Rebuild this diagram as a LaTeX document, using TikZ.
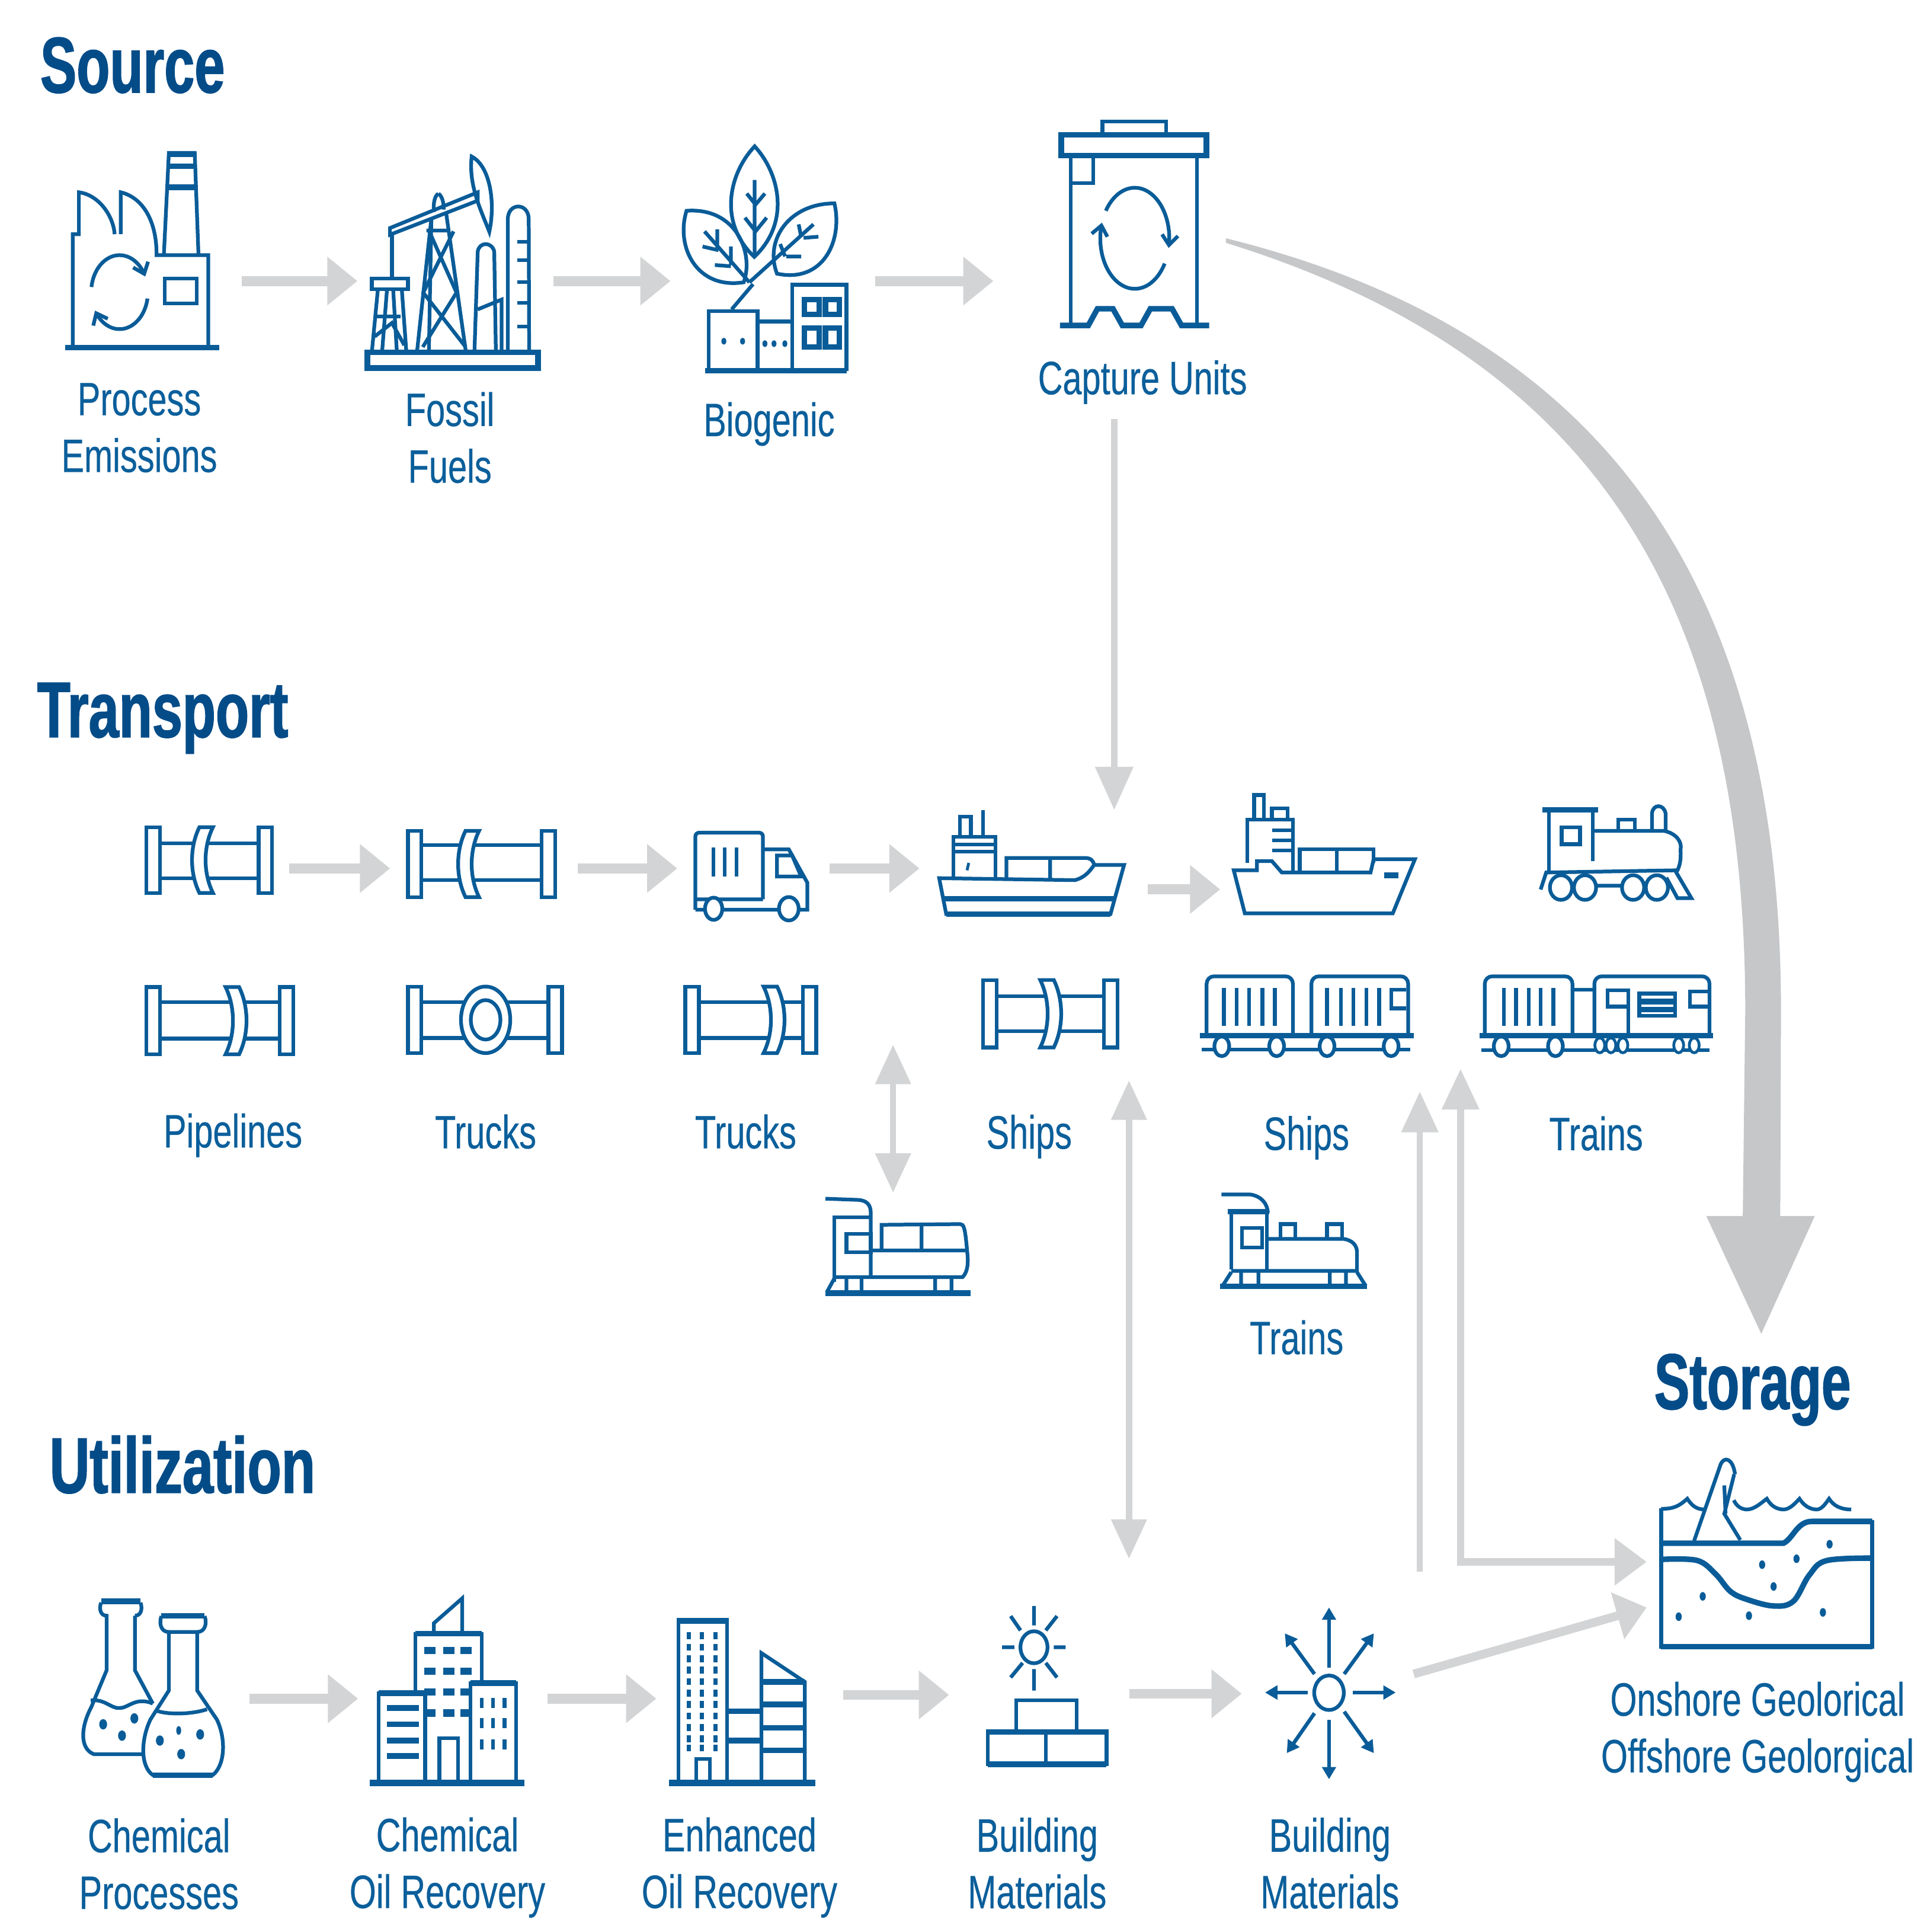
\documentclass[tikz,border=0pt]{standalone}
\usepackage{fontspec}
\usetikzlibrary{arrows.meta}
\newfontfamily\lblface[FakeStretch=0.73,FakeBold=0.35]{Liberation Sans}
\newfontfamily\headface[FakeStretch=0.69,FakeBold=1.2]{Liberation Sans Bold}
\definecolor{icoblue}{HTML}{0A5C98}
\definecolor{lblblue}{HTML}{0B5F9B}
\definecolor{headblue}{HTML}{034C88}
\definecolor{arrgray}{HTML}{D3D4D5}
\definecolor{biggray}{HTML}{C6C7C9}
\tikzset{
 ic/.style={draw=icoblue,line width=3pt,line join=miter},
 icthick/.style={draw=icoblue,line width=4.5pt},
 icthin/.style={draw=icoblue,line width=2.3pt},
 dotmark/.style={fill=icoblue},
 lbl/.style={text=lblblue,font=\lblface\fontsize{38}{46}\selectfont,align=center,inner sep=0pt},
 headl/.style={text=headblue,font=\headface\fontsize{64}{70}\selectfont,anchor=base west,inner sep=0pt},
 flow/.style={draw=arrgray,line width=8pt,-{Triangle[length=24.5pt,width=38pt]}},
 slim/.style={draw=arrgray,line width=5pt},
 barb/.style={-{Straight Barb[length=8pt,width=13pt]}},
}
\newcommand\ellarc[7][]{\draw[ic,#1] plot[domain=#6:#7,samples=40,variable=\t] ({#2+#4*cos(\t)},{#3+#5*sin(\t)});}
\newcommand\pipeicon[7]{%
 \draw[ic] ({#1+11},#6) -- ({#2-11},#6) ({#1+11},#7) -- ({#2-11},#7);
 \draw[ic,fill=white] (#1,#3) rectangle ({#1+11},#4);
 \draw[ic,fill=white] ({#2-11},#3) rectangle (#2,#4);
}
\newcommand\coupling[4]{%
 \begin{scope}[shift={(#1,0)},xscale=#4]
 \draw[ic,fill=white] (-6,#2) -- (5,#2) .. controls (13,{#2+0.3*(#3-#2)}) and (13,{#3-0.3*(#3-#2)}) .. (5,#3) -- (-6,#3) .. controls (2,{#3-0.3*(#3-#2)}) and (2,{#2+0.3*(#3-#2)}) .. (-6,#2) -- cycle;
 \end{scope}}
\newcommand\dotm[4]{\fill[dotmark] (#1,#2) ellipse (#3 and #4);}
\begin{document}
\begin{tikzpicture}[x=1pt,y=-1pt]
\useasboundingbox (0,0) rectangle (1561,1567.3);
\fill[white] (0,0) rectangle (1561,1567.3);

% ---------- headings
\node[headl] (hsource) at (32.5,75) {Source};
\node[headl] (htransport) at (30,598) {Transport};
\node[headl,xscale=1.022] (hutil) at (40,1211) {Utilization};
\node[headl,xscale=0.97] (hstorage) at (1342,1143) {Storage};

% ---------- labels
\node[lbl] (lprocess) at (113,347) {Process\\Emissions};
\node[lbl] (lfossil) at (365,355) {Fossil\\Fuels};
\node[lbl] (lbio) at (624,344) {Biogenic};
\node[lbl] (lcapture) at (927,310) {Capture Units};
\node[lbl] (lpipe) at (189,921) {Pipelines};
\node[lbl] (ltruck) at (394,918) {Trucks};
\node[lbl] (ltruckb) at (605,918) {Trucks};
\node[lbl] (lship) at (835,922) {Ships};
\node[lbl] (lshipb) at (1060,923) {Ships};
\node[lbl] (ltrain) at (1295,919.5) {Trains};
\node[lbl] (ltrainb) at (1052,1085) {Trains};
\node[lbl] (lchem) at (129,1512) {Chemical\\Processes};
\node[lbl] (lchemb) at (363,1515) {Chemical\\Oil Recovery};
\node[lbl] (lenh) at (600,1515) {Enhanced\\Oil Recovery};
\node[lbl] (lbuild) at (841.5,1511.5) {Building\\Materials};
\node[lbl] (lbuildb) at (1079,1511.5) {Building\\Materials};
\node[lbl] (lgeo) at (1426,1405) {Onshore Geolorical\\Offshore Geolorgical};

% ---------- connector end points
\coordinate (s1a) at (196,228); \coordinate (s1b) at (290,228);
\coordinate (s2a) at (449,228); \coordinate (s2b) at (544,228);
\coordinate (s3a) at (710,228); \coordinate (s3b) at (806,228);
\coordinate (capdown) at (904,340); \coordinate (shiptop) at (904,657);
\coordinate (t1a) at (234.5,704.5); \coordinate (t1b) at (316.5,704.5);
\coordinate (t2a) at (468.5,704.5); \coordinate (t2b) at (549.5,704.5);
\coordinate (t3a) at (673,704.5); \coordinate (t3b) at (746,704.5);
\coordinate (t4a) at (931,721.5); \coordinate (t4b) at (990,721.5);
\coordinate (d1a) at (724.6,847.5); \coordinate (d1b) at (724.6,967.5);
\coordinate (d2a) at (916,876.5); \coordinate (d2b) at (916,1264.5);
\coordinate (up1a) at (1152,1275); \coordinate (up1b) at (1152,885.5);
\coordinate (up2a) at (1185,867); \coordinate (up2c) at (1185,1267); \coordinate (up2b) at (1336,1267);
\coordinate (bma) at (1147,1358); \coordinate (bmb) at (1336,1304);
\coordinate (u1a) at (202.5,1378); \coordinate (u1b) at (290.5,1378);
\coordinate (u2a) at (444,1378); \coordinate (u2b) at (532.5,1378);
\coordinate (u3a) at (684,1375); \coordinate (u3b) at (770,1375);
\coordinate (u4a) at (916.5,1374); \coordinate (u4b) at (1007.5,1374);

% ---------- gray connectors
\foreach \p/\q in {s1a/s1b,s2a/s2b,s3a/s3b,t1a/t1b,t2a/t2b,t3a/t3b,t4a/t4b,u1a/u1b,u2a/u2b,u3a/u3b,u4a/u4b}
  \draw[flow] (\p) -- (\q);
\draw[slim,-{Triangle[length=35pt,width=30pt]}] (capdown) -- (shiptop);
\draw[slim,{Triangle[length=32pt,width=28pt]}-{Triangle[length=32pt,width=28pt]}] (d1a) -- (d1b);
\draw[slim,{Triangle[length=32pt,width=28pt]}-{Triangle[length=32pt,width=28pt]}] (d2a) -- (d2b);
\draw[slim,-{Triangle[length=33pt,width=29pt]}] (up1a) -- (up1b);
\draw[slim,line width=6pt,{Triangle[length=33pt,width=29pt]}-{Triangle[length=26pt,width=37pt]}] (up2a) -- (up2c) -- (up2b);
\draw[flow,line width=7pt] (bma) -- (bmb);
% big curved arrow to storage
\fill[biggray] (994.6,193.3) .. controls (1315,272.5) and (1445,490) .. (1445,820) -- (1444.4,986.5)
  -- (1472.4,986.5) -- (1429,1082) -- (1384.4,986.5) -- (1414,986.5)
  -- (1416,820) .. controls (1416,490) and (1295,290) .. (994.6,197) -- cycle;

% ---------- factory
\draw[ic] (59,283) -- (59,190) -- (64,190) -- (64,156) .. controls (80,158) and (92,175) .. (93,190)
  (98,190) -- (98,156) .. controls (115,160) and (127,178) .. (127,206) -- (127,207) -- (169,207) -- (169,283);
\draw[ic] (133,206) -- (137,124) -- (158,124) -- (161,206);
\draw[icthick] (137,135) -- (158,135) (136,152) -- (159,152) (137,125) -- (158,125);
\draw[ic] (133.5,226) rectangle (159.5,246);
\draw[icthick] (53,282) -- (178,282);
\ellarc[barb]{97}{237}{23}{30}{188}{335}
\ellarc[barb]{97}{237}{23}{30}{10}{150}

% ---------- oil
\draw[icthick] (298,285.7) rectangle (436.6,298.6);
\draw[ic] (301.7,226) rectangle (331,234.6);
\draw[ic] (306.6,234.6) -- (301.7,285.7) (326,234.6) -- (329.7,285.7)
  (314,234.6) -- (310,285.7) (319,234.6) -- (322,285.7) (306,256.7) -- (325,256.7) (304,273) -- (318,262) -- (328,280);
\draw[ic] (316.4,185) -- (387.6,156) -- (387.6,162.8) -- (316.4,190.4) -- cycle;
\draw[ic] (318,190) -- (318,226);
\draw[ic] (382.7,127) .. controls (398,135) and (402,165) .. (397,188) .. controls (390,170) and (380,150) .. (382.7,127) -- cycle;
\draw[ic] (355.7,157) .. controls (351,160) and (352,170) .. (352,172) (355.7,157) .. controls (360,160) and (360,168) .. (360,170);
\draw[ic] (350,177) -- (338.5,284) (362,173) -- (377.8,284) (350,177) -- (348,284);
\draw[ic] (348.3,187.7) -- (370.4,237.4) -- (343,281.5) (368,187.7) -- (343.4,237.4) -- (377.8,281.5) (346,187) -- (364,187);
\draw[ic] (385,284) -- (387.6,204) .. controls (389,196) and (399,196) .. (401,204) -- (402.3,284) (387.6,251) -- (407,243) -- (407,284);
\draw[ic] (412,284) -- (412,178) .. controls (412,164) and (429,164) .. (429,178) -- (429.3,284);
\draw[ic] (419.5,196) -- (429.3,196) (419.5,211) -- (429.3,211) (419.5,229) -- (429.3,229) (419.5,245.6) -- (429.3,245.6) (419.5,265) -- (429.3,265);

% ---------- biogenic
\draw[ic] (612.3,118.7) .. controls (592,140) and (582,180) .. (612,208.4) .. controls (642,180) and (632,140) .. (612.3,118.7) -- cycle;
\draw[ic] (612.3,146) -- (612.3,208) (605.9,157) -- (613,166) -- (620.6,157) (604.4,176.6) -- (613,187.7) -- (622,176.6);
\draw[ic] (557,171) .. controls (597,168) and (612,205) .. (603.4,229) .. controls (565,235) and (548,200) .. (557,171) -- cycle;
\draw[ic] (571.6,187.7) -- (608,229) (570,200) -- (583,203) (582,186) -- (582,201) (580,215) -- (593,216) (593,200) -- (593,215);
\draw[ic] (677,165) .. controls (640,165) and (620,195) .. (630.4,222) .. controls (668,230) and (684,195) .. (677,165) -- cycle;
\draw[ic] (660,182) -- (608,229) (648,182) -- (650,192) (664,192) -- (652,193) (633,198) -- (637,208) (650,208) -- (638,208);
\draw[ic] (611,230.5) -- (593.6,251);
\draw[ic] (575,252.5) rectangle (614.7,300.8);
\draw[ic] (614.7,260.8) -- (641.7,260.8) (614.7,300) -- (614.7,260.8);
\draw[ic] (642.7,300.8) -- (642.7,231) -- (686.8,231) -- (686.8,300.8);
\draw[icthick] (572,300.8) -- (687,300.8);
\draw[icthick] (652.5,243) rectangle (664.8,255) (669.7,243) rectangle (681,255) (652.5,266) rectangle (664.8,281.5) (669.7,266) rectangle (681,281.5);
\dotm{587.3}{276.8}{2}{2.8}\dotm{602.5}{276.8}{2}{2.8}
\dotm{620.6}{278.8}{2}{2.8}\dotm{628}{278.8}{2}{2.8}\dotm{636.8}{278.8}{2}{2.8}

% ---------- capture unit
\draw[ic] (894.4,98.4) rectangle (946,109.4);
\draw[icthick] (861,109.4) rectangle (978.8,126.1);
\draw[ic] (868.7,126) -- (868.7,264) (971.2,126) -- (971.2,264) (887,126) -- (887,148.7) -- (868.7,148.7);
\ellarc[barb]{920.7}{193.3}{28}{41}{213}{371}
\ellarc[barb]{920.7}{193.3}{28}{41}{30}{198}
\draw[icthick] (860,264) -- (883,264) -- (890.4,250.5) -- (903,250.5) -- (910.6,264) -- (925.8,264) -- (933.3,250.5) -- (951,250.5) -- (958.6,264) -- (981,264);

% ---------- pipes
\pipeicon{118.7}{220.8}{671}{724.4}{}{684}{712.6}\coupling{166.8}{671}{724.4}{-1}
\pipeicon{331}{450.4}{674}{727.8}{}{685.6}{714}\coupling{382.7}{674}{727.8}{-1}
\pipeicon{118.7}{238}{800.7}{855.3}{}{813}{842.5}\coupling{189}{800.7}{855.3}{1}
\pipeicon{331}{456}{800.3}{854.3}{}{813}{842}
\draw[ic,fill=white] (394,827.3) ellipse (20 and 27);
\draw[ic,fill=white] (394,827.3) ellipse (12 and 16);
\pipeicon{556}{662.3}{800.3}{854.3}{}{813}{842}\coupling{625.5}{800.3}{854.3}{1}
\pipeicon{797.5}{906.8}{795}{849.7}{}{808.3}{836.5}\coupling{850}{795}{849.7}{1}

% ---------- truck
\draw[ic,rounded corners=3pt] (619,729.5) -- (619,675.5) -- (564.2,675.5) -- (564.2,738);
\draw[ic] (564.2,729.5) -- (619,729.5) (619,689) -- (640,689) -- (655,716) -- (655,738) -- (564.2,738);
\draw[ic] (630.4,694) -- (642.7,694) -- (650,711) -- (630.4,711) -- cycle;
\draw[ic] (579,687.3) -- (579,711) (588,687.3) -- (588,711) (597.6,687.3) -- (597.6,711);
\draw[ic,fill=white] (579,737.2) ellipse (7 and 9);
\draw[ic,fill=white] (640,737.2) ellipse (8 and 9.5);

% ---------- ship 1
\draw[ic] (816.6,714) -- (816.6,696) -- (880,696) .. controls (885,696) and (887,698) .. (887.7,701.7) (852,696) -- (852,714);
\draw[ic] (773.5,712) -- (773.5,678.7) -- (807.7,678.7) -- (807.7,712);
\draw[ic] (774,685) -- (807,685) (775,691) -- (806,691);
\draw[ic] (778.8,678.7) -- (778.8,662.4) -- (787.7,662.4) -- (787.7,678.7) (797.5,657) -- (797.5,678.7);
\draw[icthin] (786,700) -- (784.6,706);
\draw[ic] (762,712.4) -- (872,714) .. controls (880,712) and (884,707) .. (887.7,701.7) -- (912,701.7) -- (901,741.5) -- (767.7,741.5) -- cycle;
\draw[icthick] (765.5,729) -- (905.5,729) (767.7,741.5) -- (901,741.5);

% ---------- ship 2
\draw[ic] (1054.5,707.8) -- (1054.5,688.8) -- (1114.5,688.8) -- (1114.5,700) (1084.7,688.8) -- (1084.7,707.8);
\draw[ic] (1012,700) -- (1012,665) -- (1049,665) -- (1049,707);
\draw[ic] (1017.5,665) -- (1017.5,645) -- (1025.5,645) -- (1025.5,665);
\draw[ic] (1032,655.7) rectangle (1044.7,665);
\draw[ic] (1032,673.4) -- (1048,673.4) (1032,681.7) -- (1048,681.7) (1032,690) -- (1048,690);
\draw[ic] (1001,706) -- (1019.8,706) -- (1019.8,698.6) -- (1032,698.6) -- (1040,707.8) -- (1112,707.8) -- (1114.5,697) -- (1148,697) -- (1130,741) -- (1010,741) -- cycle;
\draw[icthick] (1123,710) -- (1134.5,710);

% ---------- locomotive (upper)
\draw[icthick] (1251.4,657) -- (1296.8,657);
\draw[ic] (1256.7,657) -- (1256.7,707.8) (1292.3,657) -- (1292.3,698.6);
\draw[ic] (1267,671) rectangle (1282,684.8);
\draw[ic] (1292.3,674) -- (1350,674) .. controls (1360,676) and (1365,683) .. (1363.5,689.4) .. controls (1364,697) and (1363,702) .. (1361,706) -- (1254.5,707.8) -- (1250,721.6);
\draw[ic] (1313,674) -- (1313,665) -- (1326.5,665) -- (1326.5,674);
\draw[ic] (1340.3,674) -- (1340.3,660) .. controls (1341,652) and (1350,652) .. (1351.4,660) -- (1351.4,674);
\draw[ic] (1293,718.5) -- (1318,718.5) (1359,706) -- (1372.3,728.6) -- (1361,728.6) -- (1352,712);
\foreach \wx in {1266.5,1286,1325,1344.3}{\draw[ic,fill=white] (\wx,720) ellipse (9 and 10);}

% ---------- wagons (middle)
\foreach \ax/\bx in {979/1049,1064/1142.5,1204.7/1275.8}{
  \draw[ic,rounded corners=6pt] (\ax,840) -- (\ax,792) -- (\bx,792) -- (\bx,840);}
\foreach \sx in {993,1003.3,1013.5,1024.2,1034.4,1076.7,1087.8,1098,1108.7,1119,1220,1230,1240.4,1250,1260.3}{
  \draw[ic] (\sx,801.3) -- (\sx,832);}
\draw[ic] (1141,802.8) -- (1129,802.8) -- (1129,818) -- (1141,818);
\draw[icthick] (973.5,840.2) -- (1147,840.2) (1200.3,840.2) -- (1390,840.2);
\draw[ic] (975,851.3) -- (1144,851.3) (1202,852) -- (1387,852);
\foreach \wx in {991.3,1035.8,1076.7,1128.7,1218,1262}{\draw[ic,fill=white] (\wx,848.8) ellipse (6 and 8);}
\foreach \wx in {1298,1307,1316.7,1362,1374.6}{\draw[icthin,fill=white] (\wx,848) ellipse (4 and 6);}
\draw[ic,rounded corners=6pt] (1293.6,840) -- (1293.6,792) -- (1387,792) -- (1387,840);
\draw[ic] (1275.8,802.8) -- (1293.6,802.8);
\draw[ic] (1321,840) -- (1321,803.4) -- (1304.3,803.4) -- (1304.3,816.6) -- (1321,816.6);
\draw[ic] (1330,806) rectangle (1359,824);
\draw[icthick] (1330,812.5) -- (1359,812.5) (1330,819) -- (1359,819);
\draw[ic] (1385.7,804.4) -- (1371,804.4) -- (1371,816.6) -- (1385.7,816.6);

% ---------- tanker loco (centre)
\draw[ic] (669.7,972.4) -- (696.7,973.4) .. controls (703,974) and (706.5,977) .. (706.5,984) -- (706.5,1036);
\draw[ic] (677,1040) -- (677,987.5) -- (706.5,987.5);
\draw[ic] (686.8,1001) rectangle (706.5,1016);
\draw[ic] (715.3,1014) -- (715.3,993.6) -- (779,993) .. controls (782,993) and (783,996) .. (784.6,1014) (747.7,993) -- (747.7,1014);
\draw[ic] (706.5,1014.4) -- (784.6,1014.4) .. controls (786,1025) and (785,1032) .. (781,1036) -- (677,1036);
\draw[icthick] (669.7,1049) -- (787.7,1049);
\draw[ic] (677,1037) -- (671,1048) (686.8,1036) -- (686.8,1048) (699,1036) -- (699,1048) (758.8,1036) -- (758.8,1048) (772,1036) -- (772,1048);

% ---------- loco (lower)
\draw[ic] (991,969) -- (1014.4,969) .. controls (1022,970) and (1028,975) .. (1028.7,983.7);
\draw[ic] (998.9,1030) -- (998.9,983) (1027.8,983) -- (1027.8,1030);
\draw[icthick] (996,983) -- (1030,983);
\draw[ic] (1007.8,996) rectangle (1024,1012);
\draw[ic] (1027.8,1005) -- (1090,1005) .. controls (1097,1006) and (1101,1010) .. (1101,1016) -- (1101,1031) -- (999,1031);
\draw[ic] (1039,1005) -- (1039,993) -- (1051,993) -- (1051,1005) (1076.7,1005) -- (1076.7,993) -- (1089,993) -- (1089,1005);
\draw[icthick] (990,1043.5) -- (1109,1043.5);
\draw[ic] (999,1032) -- (992,1043) (1007,1032) -- (1007,1043) (1021,1032) -- (1021,1043) (1079,1032) -- (1079,1043) (1092,1032) -- (1092,1043) (1101,1032) -- (1108,1043);

% ---------- flasks
\draw[ic] (82,1300) .. controls (80,1306) and (82,1310.7) .. (86.5,1310.7) -- (86.5,1355) -- (74,1385) .. controls (66,1400) and (64,1418) .. (76,1423) -- (115,1423);
\draw[ic] (109.5,1310.7) .. controls (114,1310.7) and (116,1306) .. (114,1300) (109.5,1310.7) -- (109.5,1355) -- (124,1382);
\draw[icthick] (82,1299) -- (114,1299);
\draw[ic] (73.6,1379.5) .. controls (85,1378) and (90,1386) .. (96.6,1385.6) .. controls (104,1386) and (110,1376) .. (124,1382);
\draw[ic,fill=white] (137,1323.9) -- (137,1371.4) -- (122,1395) .. controls (114,1412) and (114,1433) .. (124,1440) -- (172.5,1440) .. controls (182,1433) and (184,1412) .. (176,1395) -- (160,1371.4) -- (160,1323.9) -- cycle;
\draw[ic] (137,1323.9) .. controls (130,1323.9) and (129,1316) .. (131,1311) (160,1323.9) .. controls (167,1323.9) and (168,1316) .. (166,1311);
\draw[icthick] (131,1310.7) -- (166,1310.7) (124,1440) -- (172.5,1440);
\draw[ic] (126.5,1387.6) .. controls (135,1391) and (155,1391) .. (168,1386.6);
\dotm{83.7}{1398.8}{3.2}{4.2}\dotm{109}{1394}{3.2}{4.2}\dotm{99}{1408}{3.2}{4.2}
\dotm{129.7}{1412}{3.2}{4.2}\dotm{145}{1403.8}{2}{3.5}\dotm{162.4}{1407}{3.2}{4.2}\dotm{147}{1423}{3.2}{4.2}

% ---------- building 1
\draw[ic] (337,1373) -- (337,1325.3) -- (391,1325.3) -- (391,1365);
\draw[icthick] (337,1325.3) -- (391,1325.3);
\draw[ic] (352,1324) -- (352,1316.8) -- (375,1296.6) -- (375,1324);
\draw[ic] (307.3,1446) -- (307.3,1373.5) -- (345,1373.5) -- (345,1446);
\draw[ic] (381.8,1446) -- (381.8,1365.4) -- (418.6,1365.4) -- (418.6,1446);
\draw[icthick] (307.3,1373.5) -- (345,1373.5) (381.8,1365.4) -- (418.6,1365.4);
\foreach \ry in {1385.6,1398.8,1412,1424.5}{\draw[icthick] (314,\ry) -- (340,\ry);}
\foreach \ry in {1339,1355.7,1372.5,1389.7}{\foreach \cx in {348.7,364.3,378}{\fill[dotmark] ({\cx-4.5},{\ry-3}) rectangle ({\cx+4.5},{\ry+3});}}
\foreach \ry in {1381.6,1397.8,1415}{\foreach \cx in {391,400,409.4}{\draw[ic] (\cx,{\ry-4}) -- (\cx,{\ry+4});}}
\draw[ic] (356.5,1446) -- (356.5,1410) -- (371.7,1410) -- (371.7,1446);
\draw[draw=icoblue,line width=5pt] (300,1446.3) -- (425.5,1446.3);

% ---------- building 2
\draw[ic] (550.6,1446) -- (550.6,1314.8) -- (590,1314.8) -- (590,1446);
\draw[icthick] (549,1314.8) -- (591.5,1314.8);
\foreach \ry in {1327,1336.3,1345.6,1354.9,1364.2,1373.5,1382.8,1392.1,1401.4,1410.7,1418}{\foreach \cx in {559,569.5,580.5}{\fill[dotmark] ({\cx-1.6},{\ry-2.8}) rectangle ({\cx+1.6},{\ry+2.8});}}
\draw[ic] (565,1446) -- (565,1427) -- (576,1427) -- (576,1446);
\draw[ic] (617.8,1446) -- (617.8,1341) -- (653,1364.4) -- (653,1446);
\draw[icthick] (617.8,1364.4) -- (653,1364.4) (617.8,1382.6) -- (653,1382.6) (617.8,1401.8) -- (653,1401.8) (617.8,1420) -- (653,1420) (590,1388.2) -- (617.8,1388.2) (590,1412) -- (617.8,1412);
\draw[draw=icoblue,line width=5pt] (542.8,1446.3) -- (661.5,1446.3);

% ---------- sun + bricks
\draw[ic] (838.9,1336.3) ellipse (11 and 13);
\draw[ic] (838.9,1302.8) -- (838.9,1318.6) (838.9,1354) -- (838.9,1371.4) (813,1336.3) -- (823,1336.3) (855,1336.3) -- (864.6,1336.3)
  (820,1311) -- (828,1322.6) (857.6,1311) -- (848.5,1322.6) (820,1360.8) -- (829.7,1349) (857.6,1360.8) -- (848.5,1349);
\draw[ic] (824.4,1404) -- (824.4,1379.3) -- (873.7,1379.3) -- (873.7,1404);
\draw[icthick] (801.4,1405) -- (897.8,1405) (801.4,1431.2) -- (897.8,1431.2);
\draw[ic] (801.4,1404.3) rectangle (897.8,1431.2) (848.5,1404.3) -- (848.5,1431.2);

% ---------- burst
\draw[ic] (1078.3,1373.2) ellipse (12 and 14);
\foreach \ax/\ay/\bx/\by in {1078.3/1352.9/1078.3/1304,1078.3/1395/1078.3/1443.4,1061/1373/1026.4/1373,1097.6/1373/1132.4/1373,1066.5/1358/1042.4/1325,1090.6/1358/1114.7/1325,1066.5/1389.8/1044/1422.2,1090.6/1388.5/1114.7/1422.2}{
  \draw[ic,-{Triangle[length=10pt,width=11pt]}] (\ax,\ay) -- (\bx,\by);}

% ---------- storage
\draw[ic] (1347.8,1223.7) -- (1347.8,1335.8) -- (1519,1335.8) -- (1519,1233);
\draw[icthick] (1347.8,1335.8) -- (1519,1335.8);
\draw[ic] (1347.8,1224) .. controls (1358,1224) and (1362,1222) .. (1369,1215.8) .. controls (1373,1222) and (1377,1224.5) .. (1383,1224.5)
  (1406.7,1217) .. controls (1409,1222) and (1413,1224.5) .. (1417.4,1224.5) .. controls (1423,1224.5) and (1428,1220) .. (1433.5,1215.8) .. controls (1437,1222) and (1442,1224.5) .. (1447,1224.5) .. controls (1452,1224.5) and (1456,1220) .. (1460,1215.8) .. controls (1464,1222) and (1469,1224.5) .. (1474,1224.5) .. controls (1478,1224.5) and (1481,1220) .. (1484,1215.8) .. controls (1488,1222) and (1494,1224.5) .. (1502,1224.5);
\draw[ic] (1374.5,1250) -- (1396,1188) .. controls (1399,1181) and (1406,1183) .. (1407.7,1196) (1407,1196) -- (1399,1228) -- (1412,1249.3) (1399,1205) -- (1400,1228);
\draw[icthick] (1348.7,1251.9) -- (1447,1251.9) .. controls (1455,1248) and (1458,1234.2) .. (1470,1234.2) -- (1519,1234.2);
\draw[icthick] plot[smooth,tension=0.6] coordinates {(1348.7,1265) (1377,1265.9) (1392,1277) (1404,1291) (1417.4,1297.5) (1439,1302.8) (1455,1299) (1468,1277.7) (1482,1266) (1519,1264)};
\foreach \dx/\dy in {1484.4/1252.7,1457.6/1264.5,1429.7/1269.3,1439/1287,1381.5/1295,1362/1311.5,1419/1310.7,1479/1308}{\dotm{\dx}{\dy}{2.5}{3.5}}
\end{tikzpicture}
\end{document}
